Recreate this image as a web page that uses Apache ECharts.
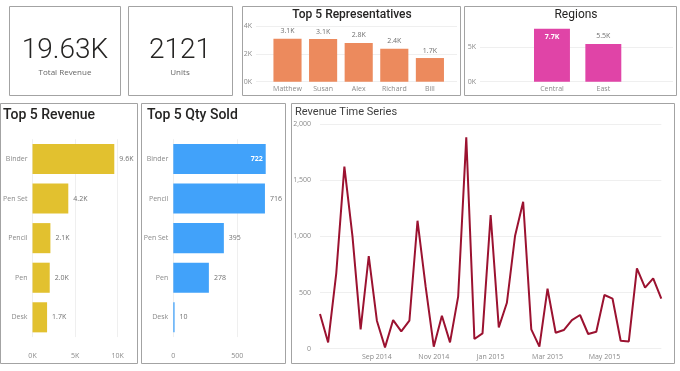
<!DOCTYPE html>
<html>
<head>
<meta charset="utf-8">
<script src="https://cdn.jsdelivr.net/npm/echarts@6/dist/echarts.min.js"></script>
<style>
  html, body { margin: 0; padding: 0; background: #ffffff; }
  #chart { width: 680px; height: 371px; }
</style>
</head>
<body>
<div id="chart"></div>
<script>
// ---------- DATA ----------
const kpiValues = ['19.63K', '2121'];
const kpiLabels = ['Total Revenue', 'Units'];

const repNames = ['Matthew', 'Susan', 'Alex', 'Richard', 'Bill'];
const repRevenue = [3080, 3060, 2780, 2360, 1700];

const regionNames = ['Central', 'East'];
const regionRevenue = [7700, 5480];

const revenueProducts = ['Binder', 'Pen Set', 'Pencil', 'Pen', 'Desk'];
const revenueByProduct = [9600, 4200, 2100, 2020, 1710];

const qtyProducts = ['Binder', 'Pencil', 'Pen Set', 'Pen', 'Desk'];
const qtyByProduct = [722, 716, 395, 278, 10];

const revenueDates = [
  '2014-07-02','2014-07-11','2014-07-19','2014-07-28','2014-08-06','2014-08-15','2014-08-23',
  '2014-09-01','2014-09-10','2014-09-18','2014-09-27','2014-10-06','2014-10-15','2014-10-23',
  '2014-11-01','2014-11-10','2014-11-18','2014-11-27','2014-12-06','2014-12-14','2014-12-23',
  '2015-01-01','2015-01-10','2015-01-18','2015-01-27','2015-02-05','2015-02-13','2015-02-22',
  '2015-03-03','2015-03-12','2015-03-20','2015-03-29','2015-04-07','2015-04-15','2015-04-24',
  '2015-05-03','2015-05-12','2015-05-20','2015-05-29','2015-06-07','2015-06-15','2015-06-24',
  '2015-06-30'
];
const revenueValues = [
  309, 56, 671, 1620, 997, 172, 825,
  249, 12, 255, 154, 249, 1139, 552,
  18, 294, 56, 463, 1881, 86, 136,
  1190, 190, 409, 1003, 1308, 172, 18,
  534, 142, 166, 255, 300, 131, 151,
  478, 445, 71, 65, 715, 543, 626,
  445
];
const timeTickLabels = ['Sep 2014', 'Nov 2014', 'Jan 2015', 'Mar 2015', 'May 2015'];
const monthNames = ['Jan','Feb','Mar','Apr','May','Jun','Jul','Aug','Sep','Oct','Nov','Dec'];

// ---------- STYLE ----------
const FONT = '"Open Sans", "Noto Sans", sans-serif';
const TITLE_FONT = 'Roboto, "Open Sans", sans-serif';
const AXIS_COLOR = '#8a8a8a';
const GRID_COLOR = '#efefef';
const BORDER = '#a3a3a3';

const kFmt = v => (v / 1000) + 'K';
const kLabel = v => (v / 1000).toFixed(1) + 'K';

function monthLabel(d) {
  const p = d.split('-');
  return monthNames[parseInt(p[1], 10) - 1] + ' ' + p[0];
}
const firstIdx = {};
revenueDates.forEach((d, i) => {
  const m = monthLabel(d);
  if (firstIdx[m] === undefined) firstIdx[m] = i;
});

function panel(x, y, w, h) {
  return { type: 'rect', silent: true, shape: { x: x, y: y, width: w, height: h },
           style: { fill: 'none', stroke: BORDER, lineWidth: 1 } };
}

const axisLabelBase = { color: AXIS_COLOR, fontFamily: FONT, fontSize: 7 };
const valueLabelBase = { color: '#707070', fontFamily: FONT, fontSize: 7 };

const option = {
  backgroundColor: '#ffffff',
  animation: false,
  title: [
    { text: 'Top 5 Representatives', left: 352, top: 9, padding: 0, textAlign: 'center',
      textStyle: { fontFamily: TITLE_FONT, fontSize: 12, fontWeight: 500, color: '#252423' } },
    { text: 'Regions', left: 576, top: 9, padding: 0, textAlign: 'center',
      textStyle: { fontFamily: TITLE_FONT, fontSize: 12, fontWeight: 400, color: '#252423' } },
    { text: 'Top 5 Revenue', left: 3, top: 108, padding: 0,
      textStyle: { fontFamily: TITLE_FONT, fontSize: 14, fontWeight: 500, color: '#252423' } },
    { text: 'Top 5 Qty Sold', left: 147, top: 108, padding: 0,
      textStyle: { fontFamily: TITLE_FONT, fontSize: 14, fontWeight: 500, color: '#252423' } },
    { text: 'Revenue Time Series', left: 295, top: 107, padding: 0,
      textStyle: { fontFamily: TITLE_FONT, fontSize: 11, fontWeight: 400, color: '#404040' } }
  ],
  grid: [
    { left: 256, top: 26, width: 201, height: 55.7 },      // 0 reps background
    { left: 269.7, top: 26, width: 178, height: 55.7 },    // 1 reps bars
    { left: 480, top: 47.3, width: 193, height: 34.4 },    // 2 regions background
    { left: 526.3, top: 26.66, width: 102.7, height: 55.04 }, // 3 regions bars
    { left: 28.7, top: 139.2, width: 89, height: 197.9 },  // 4 revenue by product
    { left: 173.3, top: 139.2, width: 102.4, height: 197.9 }, // 5 qty by product
    { left: 320, top: 124, width: 341.3, height: 224.7 }   // 6 time series
  ],
  xAxis: [
    { gridIndex: 0, type: 'value', min: 0, max: 1, show: false },
    { gridIndex: 1, type: 'category', data: repNames,
      axisLine: { show: false }, axisTick: { show: false },
      axisLabel: Object.assign({ margin: 4, interval: 0, hideOverlap: false }, axisLabelBase) },
    { gridIndex: 2, type: 'value', min: 0, max: 1, show: false },
    { gridIndex: 3, type: 'category', data: regionNames,
      axisLine: { show: false }, axisTick: { show: false },
      axisLabel: Object.assign({ margin: 4, interval: 0 }, axisLabelBase) },
    { gridIndex: 4, type: 'value', min: 0, max: 10000, interval: 5000,
      axisLine: { show: false }, axisTick: { show: false },
      axisLabel: Object.assign({ margin: 15, formatter: kFmt }, axisLabelBase),
      splitLine: { show: true, lineStyle: { color: GRID_COLOR } } },
    { gridIndex: 5, type: 'value', min: 0, max: 800, interval: 500,
      axisLine: { show: false }, axisTick: { show: false },
      axisLabel: Object.assign({ margin: 15, showMaxLabel: false }, axisLabelBase),
      splitLine: { show: true, showMaxLine: false, lineStyle: { color: GRID_COLOR } } },
    { gridIndex: 6, type: 'category', data: revenueDates, boundaryGap: false,
      axisLine: { show: false }, axisTick: { show: false },
      axisLabel: Object.assign({
        margin: 5,
        interval: (i, v) => timeTickLabels.indexOf(monthLabel(v)) >= 0 && firstIdx[monthLabel(v)] === i,
        formatter: v => monthLabel(v)
      }, axisLabelBase) }
  ],
  yAxis: [
    { gridIndex: 0, type: 'value', min: 0, max: 4000, interval: 2000,
      axisLine: { show: false }, axisTick: { show: false },
      axisLabel: Object.assign({ margin: 4, formatter: kFmt }, axisLabelBase),
      splitLine: { show: true, lineStyle: { color: GRID_COLOR } } },
    { gridIndex: 1, type: 'value', min: 0, max: 4000, show: false },
    { gridIndex: 2, type: 'value', min: 0, max: 5000, interval: 5000,
      axisLine: { show: false }, axisTick: { show: false },
      axisLabel: Object.assign({ margin: 4, formatter: kFmt }, axisLabelBase),
      splitLine: { show: true, lineStyle: { color: GRID_COLOR } } },
    { gridIndex: 3, type: 'value', min: 0, max: 8000, show: false },
    { gridIndex: 4, type: 'category', data: revenueProducts, inverse: true,
      axisLine: { show: false }, axisTick: { show: false },
      axisLabel: Object.assign({ margin: 5 }, axisLabelBase) },
    { gridIndex: 5, type: 'category', data: qtyProducts, inverse: true,
      axisLine: { show: false }, axisTick: { show: false },
      axisLabel: Object.assign({ margin: 5 }, axisLabelBase) },
    { gridIndex: 6, type: 'value', min: 0, max: 2000, interval: 500,
      axisLine: { show: false }, axisTick: { show: false },
      axisLabel: Object.assign({ margin: 9, formatter: v => v.toLocaleString('en-US') }, axisLabelBase),
      splitLine: { show: true, lineStyle: { color: GRID_COLOR } } }
  ],
  series: [
    { type: 'bar', xAxisIndex: 1, yAxisIndex: 1, data: repRevenue,
      barCategoryGap: '21%', itemStyle: { color: '#EC8A5D' },
      label: Object.assign({ show: true, position: 'top', distance: 4, formatter: p => kLabel(p.value) }, valueLabelBase) },
    { type: 'bar', xAxisIndex: 3, yAxisIndex: 3,
      data: regionRevenue.map((v, i) => i === 0
        ? { value: v, label: { position: 'insideTop', color: '#ffffff', fontWeight: 'bold', distance: 5 } }
        : v),
      barCategoryGap: '30%', itemStyle: { color: '#E044A7' },
      label: Object.assign({ show: true, position: 'top', distance: 4, formatter: p => kLabel(p.value) }, valueLabelBase) },
    { type: 'bar', xAxisIndex: 4, yAxisIndex: 4, data: revenueByProduct,
      barCategoryGap: '24%', itemStyle: { color: '#E2C12F' },
      label: Object.assign({ show: true, position: 'right', distance: 5, formatter: p => kLabel(p.value) }, valueLabelBase) },
    { type: 'bar', xAxisIndex: 5, yAxisIndex: 5,
      data: qtyByProduct.map((v, i) => i === 0
        ? { value: v, label: { position: 'insideRight', color: '#ffffff', fontWeight: 'bold', distance: 3 } }
        : v),
      barCategoryGap: '24%', itemStyle: { color: '#41A2FA' },
      label: Object.assign({ show: true, position: 'right', distance: 5 }, valueLabelBase) },
    { type: 'line', xAxisIndex: 6, yAxisIndex: 6, data: revenueValues,
      showSymbol: false, lineStyle: { color: '#9B1230', width: 2 } }
  ],
  graphic: [
    panel(9.5, 6.5, 111, 89),
    panel(128.5, 6.5, 104, 89),
    panel(242.5, 6.5, 218, 89),
    panel(464.5, 6.5, 212, 89),
    panel(0.5, 103.5, 137, 260),
    panel(141.5, 103.5, 144, 260),
    panel(291.5, 103.5, 383, 260),
    { type: 'text', x: 65, y: 51, silent: true,
      style: { text: kpiValues[0], fontFamily: TITLE_FONT, fontWeight: 300, fontSize: 28,
               fill: '#252423', align: 'center', verticalAlign: 'middle' } },
    { type: 'text', x: 65, y: 73, silent: true,
      style: { text: kpiLabels[0], fontFamily: FONT, fontSize: 8, fill: '#666666',
               align: 'center', verticalAlign: 'middle' } },
    { type: 'text', x: 180, y: 51, silent: true,
      style: { text: kpiValues[1], fontFamily: TITLE_FONT, fontWeight: 300, fontSize: 28,
               fill: '#252423', align: 'center', verticalAlign: 'middle' } },
    { type: 'text', x: 180, y: 73, silent: true,
      style: { text: kpiLabels[1], fontFamily: FONT, fontSize: 8, fill: '#666666',
               align: 'center', verticalAlign: 'middle' } }
  ]
};

const chart = echarts.init(document.getElementById('chart'), null, { renderer: 'canvas' });
chart.setOption(option);
</script>
</body>
</html>
